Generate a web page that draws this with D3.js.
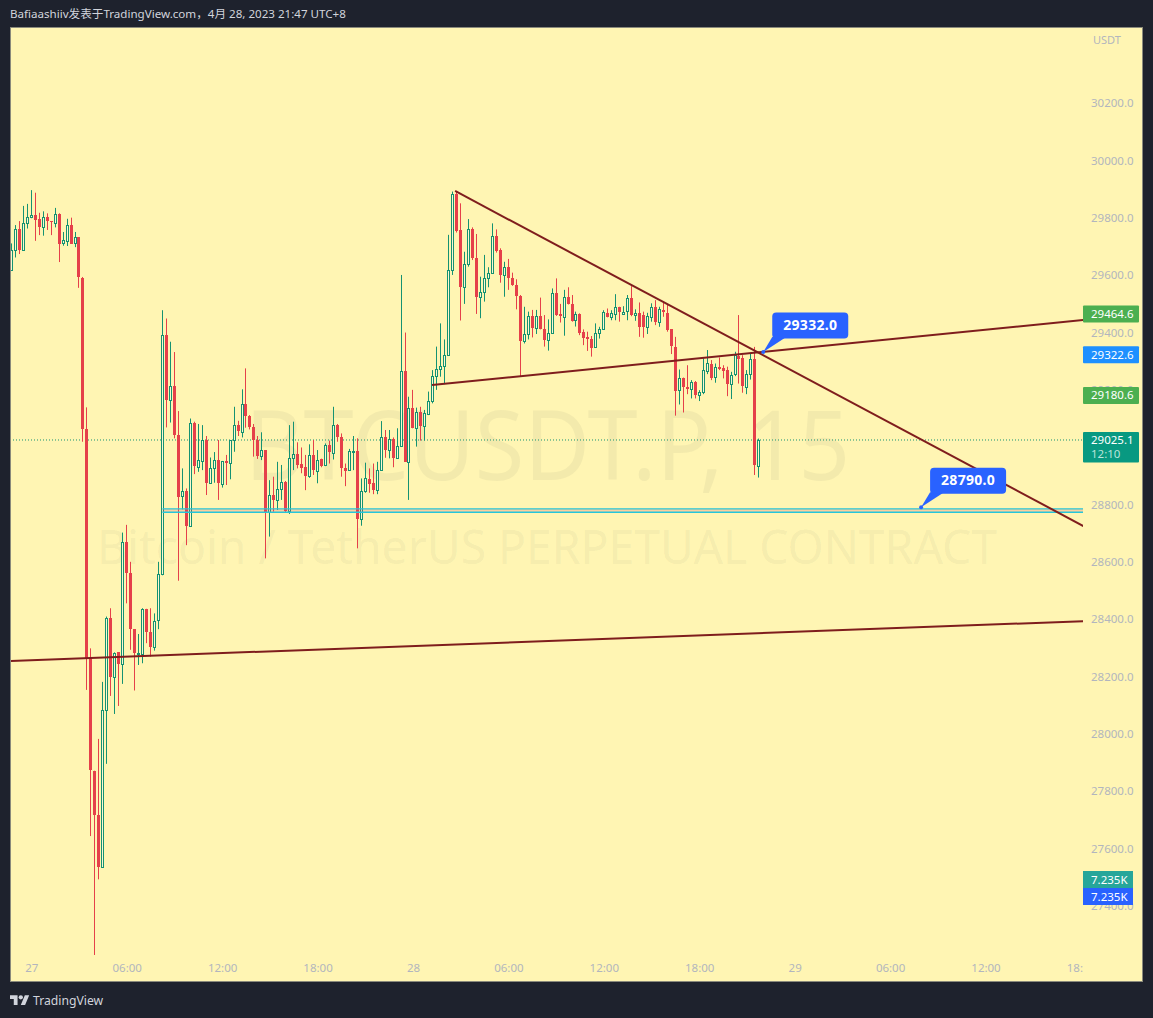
<!DOCTYPE html>
<html>
<head>
<meta charset="utf-8">
<script src="https://cdn.jsdelivr.net/npm/d3@7"></script>
<style>
  body { margin: 0; background: #1e222d; }
  svg { display: block; }
  text { font-family: "Noto Sans", "Noto Sans CJK SC", sans-serif; }
</style>
</head>
<body>
<svg id="chart" width="1153" height="1018"></svg>
<script>
// 15 minute bars, first one is 26 Apr 22:45
var opens = [
  29618, 29688, 29763, 29688, 29781, 29802, 29809, 29795, 29767, 29802,
  29788, 29783, 29814, 29710, 29722, 29777, 29711, 29732, 29592, 29065,
  28263, 27871, 27716, 27533, 28082, 28404, 28199, 28284, 28243, 28669,
  28560, 28365, 28281, 28279, 28436, 28356, 28304, 28395, 28557, 29391,
  29164, 29213, 29044, 28829, 28847, 28725, 29083, 28932, 28953, 29025,
  28876, 28926, 28954, 28873, 28952, 28946, 29025, 29076, 29054, 29151,
  29109, 29069, 29024, 28969, 28990, 28774, 28833, 28816, 28853, 28878,
  28776, 28961, 28976, 28941, 28930, 28897, 28971, 28918, 28959, 28935,
  29006, 28981, 29076, 29034, 28927, 28919, 28985, 28985, 28749, 28846,
  28888, 28874, 28850, 28919, 29034, 28990, 29030, 28963, 29004, 29266,
  28949, 29136, 29066, 29122, 29074, 29118, 29162, 29248, 29272, 29283,
  29322, 29618, 29882, 29758, 29558, 29638, 29760, 29659, 29522, 29540,
  29589, 29607, 29737, 29688, 29601, 29628, 29589, 29566, 29529, 29371,
  29395, 29459, 29417, 29458, 29411, 29372, 29397, 29537, 29464, 29456,
  29525, 29500, 29442, 29464, 29403, 29383, 29379, 29347, 29397, 29411,
  29467, 29452, 29464, 29488, 29466, 29473, 29519, 29459, 29468, 29463,
  29420, 29455, 29490, 29437, 29477, 29469, 29411, 29350, 29197, 29240,
  29211, 29202, 29228, 29182, 29193, 29267, 29292, 29246, 29281, 29278,
  29271, 29220, 29253, 29319, 29310, 29211, 29255, 29306, 28935
]
var highs = [
  29711, 29775, 29789, 29842, 29849, 29897, 29888, 29818, 29823, 29816,
  29788, 29835, 29816, 29751, 29797, 29801, 29751, 29732, 29594, 29139,
  28298, 27871, 27982, 28181, 28409, 28438, 28284, 28284, 28702, 28729,
  28600, 28365, 28348, 28438, 28436, 28438, 28420, 28600, 29478, 29449,
  29368, 29332, 29126, 28926, 28856, 29100, 29089, 29081, 29077, 29039,
  28964, 28983, 29025, 28952, 28973, 29025, 29141, 29092, 29202, 29275,
  29112, 29081, 29039, 29052, 28990, 28885, 28897, 28949, 28938, 28882,
  29077, 29089, 29017, 28999, 28973, 29010, 29025, 28990, 28960, 29013,
  29023, 29141, 29081, 29048, 28943, 28994, 29039, 29031, 28891, 28946,
  28926, 28943, 28949, 29091, 29060, 29060, 29034, 29066, 29601, 29400,
  29176, 29200, 29138, 29141, 29130, 29194, 29269, 29351, 29432, 29376,
  29741, 29892, 29894, 29851, 29682, 29796, 29767, 29744, 29595, 29671,
  29628, 29781, 29760, 29694, 29647, 29657, 29609, 29586, 29531, 29490,
  29473, 29479, 29479, 29522, 29461, 29446, 29554, 29589, 29500, 29549,
  29558, 29531, 29473, 29467, 29411, 29403, 29388, 29432, 29420, 29478,
  29484, 29478, 29534, 29490, 29492, 29531, 29562, 29481, 29505, 29473,
  29469, 29502, 29513, 29490, 29507, 29496, 29411, 29385, 29271, 29243,
  29286, 29234, 29231, 29199, 29310, 29339, 29304, 29292, 29313, 29286,
  29281, 29263, 29333, 29461, 29321, 29269, 29329, 29350, 29030
]
var lows = [
  29618, 29662, 29674, 29688, 29763, 29799, 29720, 29740, 29738, 29758,
  29740, 29767, 29646, 29703, 29702, 29709, 29698, 29556, 29019, 28153,
  27643, 27228, 27492, 27533, 27895, 28132, 28069, 28097, 28174, 28455,
  28293, 28151, 28240, 28246, 28316, 28269, 28290, 28365, 28553, 29069,
  29086, 29031, 28534, 28783, 28658, 28725, 28906, 28914, 28920, 28833,
  28876, 28876, 28816, 28859, 28868, 28888, 28984, 29039, 29034, 29068,
  29062, 28967, 28959, 28955, 28612, 28688, 28775, 28781, 28816, 28774,
  28767, 28920, 28926, 28909, 28850, 28893, 28903, 28874, 28930, 28934,
  28943, 28957, 29019, 28897, 28864, 28917, 28920, 28647, 28726, 28841,
  28841, 28836, 28836, 28918, 28963, 28961, 28930, 28961, 29004, 28949,
  28816, 29066, 29002, 29023, 29023, 29112, 29153, 29200, 29246, 29220,
  29322, 29601, 29749, 29442, 29500, 29630, 29653, 29465, 29450, 29508,
  29558, 29605, 29679, 29574, 29525, 29549, 29563, 29481, 29246, 29362,
  29376, 29383, 29395, 29411, 29351, 29337, 29395, 29458, 29435, 29389,
  29498, 29438, 29421, 29391, 29356, 29336, 29316, 29347, 29379, 29409,
  29453, 29443, 29443, 29438, 29463, 29443, 29457, 29441, 29385, 29382,
  29395, 29438, 29426, 29420, 29455, 29403, 29325, 29110, 29149, 29121,
  29185, 29170, 29170, 29161, 29185, 29255, 29234, 29225, 29269, 29240,
  29178, 29168, 29248, 29222, 29190, 29185, 29236, 28903, 28894
]
var closes = [
  29688, 29763, 29688, 29781, 29802, 29809, 29793, 29767, 29802, 29787,
  29783, 29814, 29711, 29722, 29777, 29711, 29732, 29592, 29065, 28264,
  27871, 27716, 27533, 28082, 28404, 28199, 28283, 28243, 28669, 28560,
  28365, 28281, 28281, 28436, 28356, 28304, 28395, 28557, 29391, 29164,
  29213, 29042, 28829, 28847, 28725, 29083, 28932, 28955, 29025, 28876,
  28927, 28954, 28873, 28952, 28946, 29025, 29076, 29054, 29151, 29109,
  29069, 29024, 28969, 28990, 28774, 28833, 28816, 28853, 28878, 28776,
  28961, 28976, 28938, 28928, 28897, 28971, 28918, 28957, 28934, 29006,
  28981, 29077, 29033, 28925, 28917, 28985, 28986, 28749, 28846, 28892,
  28871, 28850, 28919, 29034, 28990, 29027, 28963, 29004, 29266, 28949,
  29136, 29066, 29122, 29074, 29118, 29162, 29248, 29272, 29283, 29322,
  29618, 29882, 29754, 29558, 29638, 29760, 29659, 29522, 29540, 29589,
  29607, 29737, 29685, 29601, 29628, 29589, 29566, 29529, 29371, 29395,
  29459, 29417, 29458, 29411, 29372, 29397, 29537, 29461, 29456, 29525,
  29500, 29442, 29464, 29397, 29382, 29377, 29347, 29397, 29411, 29470,
  29454, 29467, 29488, 29470, 29473, 29519, 29459, 29467, 29419, 29420,
  29459, 29490, 29437, 29481, 29469, 29409, 29350, 29197, 29240, 29209,
  29205, 29228, 29182, 29193, 29269, 29295, 29243, 29281, 29275, 29269,
  29222, 29253, 29321, 29310, 29211, 29255, 29306, 28935, 29025
]

// 29000.0 sits fully under the last price tag in the picture, so it is left out
var priceTicks = [30200, 30000, 29800, 29600, 29400, 29200, 28800, 28600, 28400, 28200, 28000, 27800, 27600, 27400]
var timeTicks = [5, 29, 53, 77, 101, 125, 149, 173, 197, 221, 245, 269]
var timeLabels = ['27', '06:00', '12:00', '18:00', '28', '06:00', '12:00', '18:00', '29', '06:00', '12:00', '18:00']

// trend lines as [bar, price] pairs
var fallingLine = [[111.6, 29894], [269.6, 28725]]
var risingLine = [[105.8, 29217], [269.6, 29444]]
var lowerLine = [[-0.35, 28254], [269.6, 28393]]
var supportBand = [28785, 28773]
var supportStart = 38
var callouts = [[189.1, 29332, '29332.0'], [228.8, 28790, '28790.0']]

var lastPrice = 29025.1
var lineLabels = [[29464.6, '#4caf50'], [29322.6, '#1e90ff'], [29180.6, '#4caf50']]

var plotRight = 1083
var green = '#159272'
var red = '#e5404a'
var paper = '#fff5b3'

var x = d3.scaleLinear().domain([0, 187]).range([11.4, 754.9])
var y = d3.scaleLinear().domain([28800, 30200]).range([504.5, 103.3])
var trend = d3.line().x(d => x(d[0])).y(d => y(d[1]))

var svg = d3.select('#chart')

var defs = svg.append('defs')
defs.append('clipPath').attr('id', 'plot-clip').append('rect')
  .attr('x', 11).attr('y', 28).attr('width', plotRight - 11).attr('height', 953)
defs.append('clipPath').attr('id', 'time-clip').append('rect')
  .attr('x', -20).attr('y', 0).attr('width', plotRight + 20).attr('height', 40)

svg.append('text')
  .attr('x', 10)
  .attr('y', 18)
  .attr('fill', '#d1d4dc')
  .attr('font-size', 11.6)
  .text('Bafiaashiiv发表于TradingView.com，4月 28, 2023 21:47 UTC+8')

svg.append('rect')
  .attr('x', 10.5).attr('y', 27.5)
  .attr('width', 1132).attr('height', 954)
  .attr('fill', paper)
  .attr('stroke', '#8a8a7c')

// watermark
svg.append('text')
  .attr('x', 245).attr('y', 480)
  .attr('font-size', 96)
  .attr('textLength', 605)
  .attr('lengthAdjust', 'spacingAndGlyphs')
  .attr('fill', 'rgba(120,123,100,0.085)')
  .text('BTCUSDT.P, 15')
svg.append('text')
  .attr('x', 97).attr('y', 564)
  .attr('font-size', 48)
  .attr('textLength', 900)
  .attr('lengthAdjust', 'spacingAndGlyphs')
  .attr('fill', 'rgba(120,123,100,0.085)')
  .text('Bitcoin / TetherUS PERPETUAL CONTRACT')

// price axis, the coloured labels sit on top of it
var priceAxis = svg.append('g')
  .attr('transform', `translate(${plotRight + 2},0)`)
  .call(d3.axisRight(y).tickValues(priceTicks).tickSize(0).tickPadding(6).tickFormat(d => d.toFixed(1)))
priceAxis.select('.domain').remove()
priceAxis.selectAll('text')
  .attr('fill', '#b2b5be')
  .attr('font-size', 11.5)
  .style('font-family', '"Noto Sans", sans-serif')

svg.append('text')
  .attr('x', 1093).attr('y', 44)
  .attr('fill', '#b2b5be')
  .attr('font-size', 11)
  .text('USDT')

var timeAxis = svg.append('g')
  .attr('transform', 'translate(0,960)')
  .attr('clip-path', 'url(#time-clip)')
  .call(d3.axisBottom(x).tickValues(timeTicks).tickSize(0).tickPadding(4).tickFormat((d, i) => timeLabels[i]))
timeAxis.select('.domain').remove()
timeAxis.selectAll('text')
  .attr('fill', '#b2b5be')
  .attr('font-size', 11.5)
  .style('font-family', '"Noto Sans", sans-serif')

var plot = svg.append('g').attr('clip-path', 'url(#plot-clip)')

// last price line
plot.append('line')
  .attr('x1', 10).attr('x2', plotRight)
  .attr('y1', y(lastPrice)).attr('y2', y(lastPrice))
  .attr('stroke', green)
  .attr('stroke-dasharray', '1 2')

var isUp = i => closes[i] >= opens[i]

var bars = plot.selectAll('.bar')
  .data(d3.range(closes.length))
  .enter()
  .append('g')
  .attr('class', 'bar')
  .attr('transform', i => `translate(${Math.floor(x(i))},0)`)

bars.append('line')
  .attr('x1', 0.5).attr('x2', 0.5)
  .attr('y1', i => y(highs[i]))
  .attr('y2', i => y(lows[i]))
  .attr('stroke', i => isUp(i) ? green : red)

// snap bodies to whole pixels so the hollow ones stay crisp
bars.append('rect')
  .attr('x', i => isUp(i) ? -0.5 : -1)
  .attr('width', i => isUp(i) ? 2 : 3)
  .attr('y', i => Math.round(y(Math.max(opens[i], closes[i]))) + (isUp(i) ? 0.5 : 0))
  .attr('height', i => Math.max(1, Math.round(Math.abs(y(opens[i]) - y(closes[i])))))
  .attr('fill', i => isUp(i) ? '#fdf8cf' : red)
  .attr('stroke', i => isUp(i) ? green : 'none')

// support band
plot.append('rect')
  .attr('x', x(supportStart))
  .attr('y', y(supportBand[0]))
  .attr('width', plotRight - x(supportStart))
  .attr('height', y(supportBand[1]) - y(supportBand[0]))
  .attr('fill', 'rgba(242,54,69,0.2)')
plot.selectAll('.support')
  .data(supportBand)
  .enter()
  .append('line')
  .attr('class', 'support')
  .attr('x1', x(supportStart)).attr('x2', plotRight)
  .attr('y1', d => y(d)).attr('y2', d => y(d))
  .attr('stroke', '#26c6da')
  .attr('stroke-width', 1.3)

plot.selectAll('.trend')
  .data([fallingLine, risingLine, lowerLine])
  .enter()
  .append('path')
  .attr('class', 'trend')
  .attr('d', trend)
  .attr('fill', 'none')
  .attr('stroke', '#7f1d1d')
  .attr('stroke-width', 2)

// price callouts
var callout = svg.selectAll('.callout')
  .data(callouts)
  .enter()
  .append('g')
  .attr('class', 'callout')
  .attr('transform', d => `translate(${x(d[0])},${y(d[1])})`)
callout.append('path')
  .attr('d', 'M9,-15L23,-15L0,0Z')
  .attr('fill', '#2962ff')
callout.append('circle')
  .attr('r', 2)
  .attr('fill', '#2962ff')
callout.append('rect')
  .attr('x', 9).attr('y', -39.5)
  .attr('width', 76).attr('height', 26)
  .attr('rx', 4)
  .attr('fill', '#2962ff')
callout.append('text')
  .attr('x', 47).attr('y', -22)
  .attr('text-anchor', 'middle')
  .attr('fill', '#fff')
  .attr('font-size', 14)
  .attr('font-weight', 700)
  .attr('letter-spacing', 0.3)
  .text(d => d[2])

// coloured labels on the price axis
var tags = svg.selectAll('.tag')
  .data(lineLabels)
  .enter()
  .append('g')
  .attr('class', 'tag')
  .attr('transform', d => `translate(${plotRight},${y(d[0])})`)
tags.append('rect')
  .attr('y', -8.5).attr('width', 56).attr('height', 17).attr('rx', 1)
  .attr('fill', d => d[1])
tags.append('text')
  .attr('x', 8).attr('y', 4)
  .attr('fill', '#fff')
  .attr('font-size', 11.5)
  .text(d => d[0].toFixed(1))

var lastTag = svg.append('g').attr('transform', `translate(${plotRight},${y(lastPrice)})`)
lastTag.append('rect')
  .attr('y', -8).attr('width', 56).attr('height', 30.5).attr('rx', 1)
  .attr('fill', '#089981')
lastTag.append('text')
  .attr('x', 8).attr('y', 4)
  .attr('fill', '#fff')
  .attr('font-size', 11.5)
  .text(lastPrice.toFixed(1))
lastTag.append('text')
  .attr('x', 8).attr('y', 18.5)
  .attr('fill', '#b9e4da')
  .attr('font-size', 11.5)
  .text('12:10')

var volumeTags = svg.selectAll('.volume-tag')
  .data([['7.235K', '#26a69a', 871], ['7.235K', '#2962ff', 888]])
  .enter()
  .append('g')
  .attr('class', 'volume-tag')
  .attr('transform', d => `translate(${plotRight},${d[2]})`)
volumeTags.append('rect')
  .attr('width', 50).attr('height', 17)
  .attr('fill', d => d[1])
volumeTags.append('text')
  .attr('x', 8).attr('y', 13)
  .attr('fill', '#fff')
  .attr('font-size', 11.5)
  .text(d => d[0])

// footer logo
var logo = svg.append('g').attr('transform', 'translate(10,993) scale(0.54)').attr('fill', '#d1d4dc')
logo.append('path').attr('d', 'M14 22H7V11H0V4h14v18zM28 22h-8l7.5-18h8L28 22z')
logo.append('circle').attr('cx', 20).attr('cy', 8).attr('r', 4)

svg.append('text')
  .attr('x', 33).attr('y', 1005)
  .attr('fill', '#d1d4dc')
  .attr('font-size', 12.2)
  .text('TradingView')
</script>
</body>
</html>
